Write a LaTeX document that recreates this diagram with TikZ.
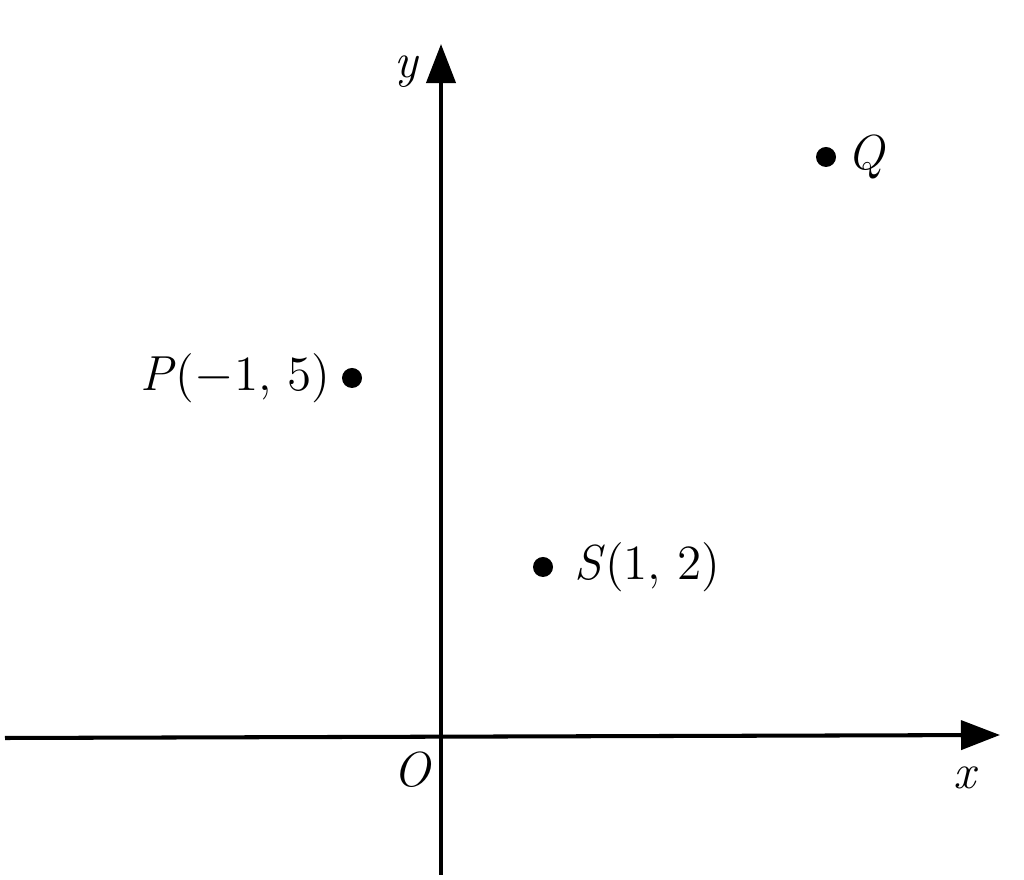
\documentclass[tikz,border=0pt]{standalone}
\usetikzlibrary{arrows.meta,positioning}

\begin{document}
\begin{tikzpicture}[x=0.01cm,y=-0.01cm]

\def\width{1024}
\def\height{880}

\fontsize{14}{17}\selectfont
\path [use as bounding box] (0,0) rectangle (\width,\height);

\tikzset{
	axis/.style={line width=1.15pt, -{Triangle[length=0.39cm, width=0.29cm]}},
	dot/.style={circle, fill=black, inner sep=0pt, minimum size=0.2cm},
	lbl/.style={inner sep=0pt, font=\itshape}
}

% AXES
\coordinate (O) at (440,737);
\coordinate (xstart) at (5,738);
\coordinate (xend) at (1000,735);
\coordinate (ystart) at (441,875);
\coordinate (yend) at (441,44);
\draw [axis] (xstart) -- (xend);
\draw [axis] (ystart) -- (yend);

\node [lbl] (olabel) at (412,770) {O};
\node [lbl] (xlabel) at (965,778) {x};
\node [lbl] (ylabel) at (406,72) {y};

% POINTS
\node [dot] (pdot) at (352,378) {};
\node [dot] (sdot) at (543,567) {};
\node [dot] (qdot) at (826,157) {};

\node [inner sep=0pt, left=0.1cm of pdot] (plabel) {\textit{P}($-$1, 5)};
\node [inner sep=0pt, right=0.2cm of sdot] (slabel) {\textit{S}(1, 2)};
\node [lbl, right=0.1cm of qdot] (qlabel) {Q};

\end{tikzpicture}
\end{document}
